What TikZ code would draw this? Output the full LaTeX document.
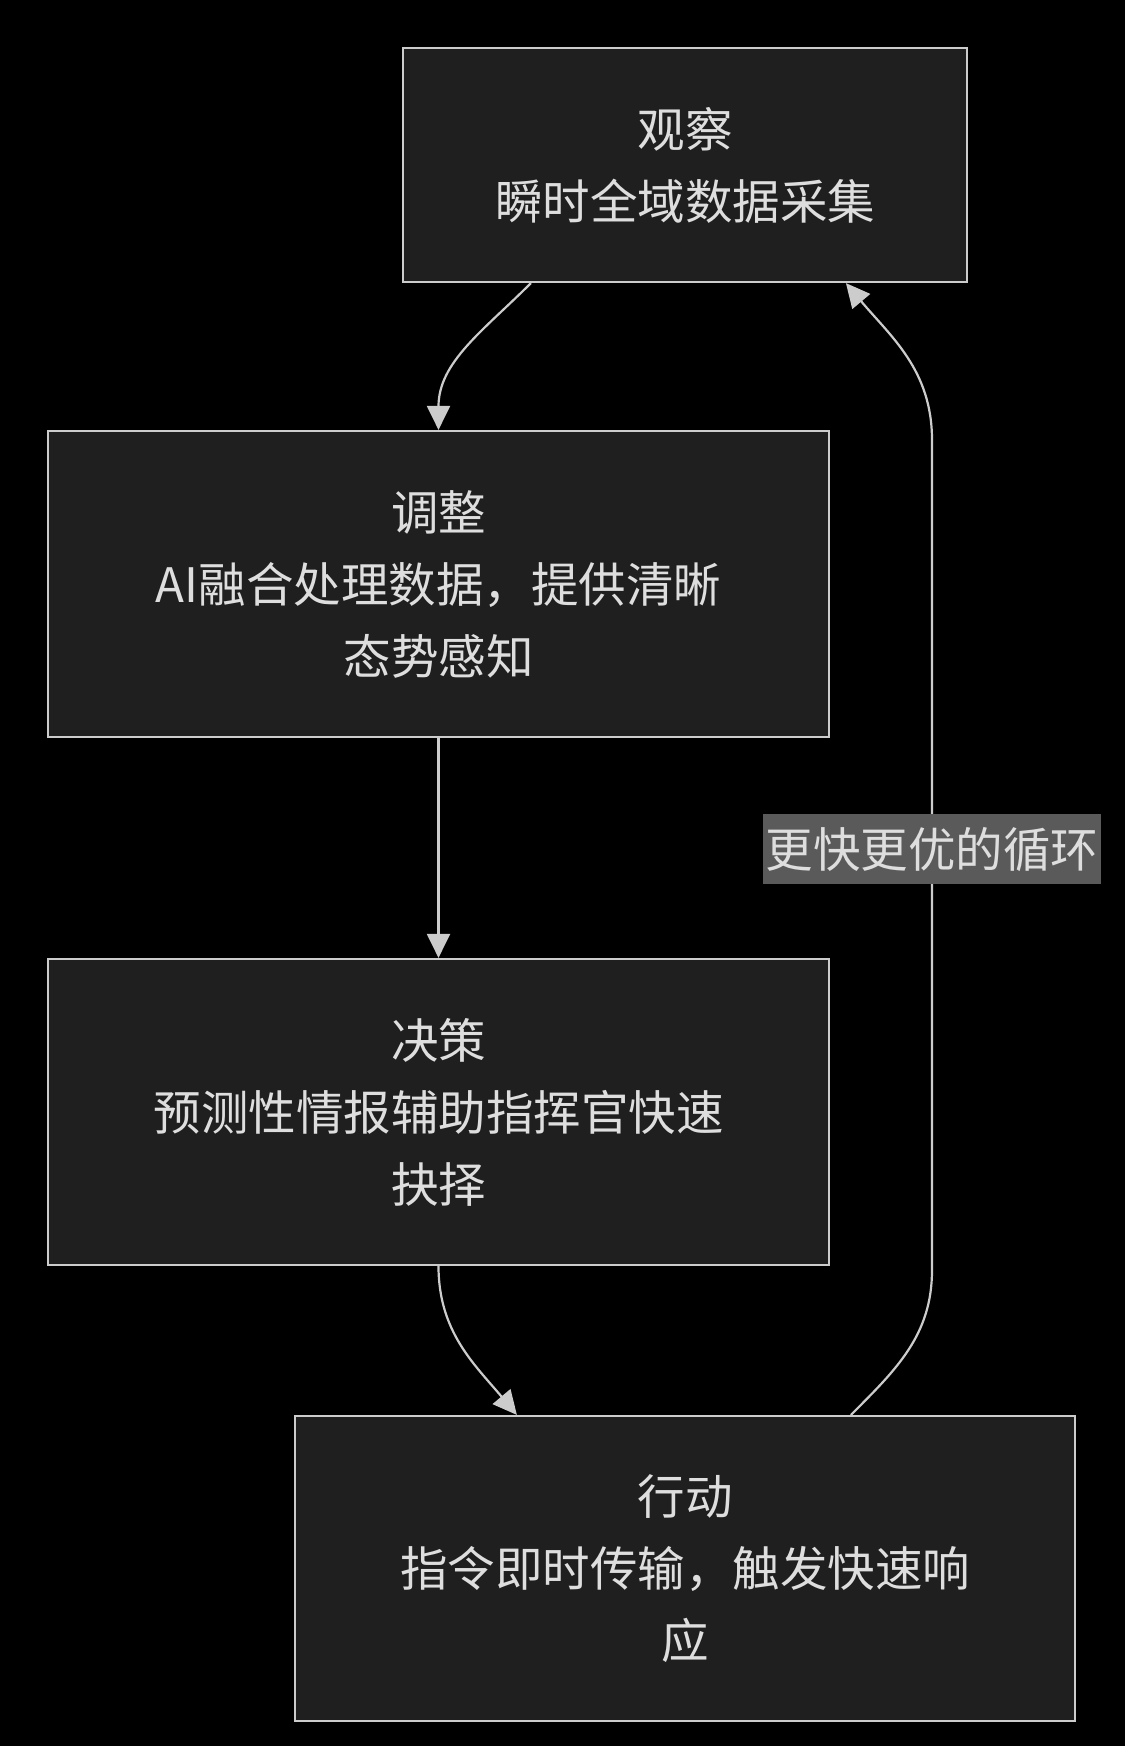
\documentclass[tikz,border=0pt]{standalone}
\usepackage{fontspec}
\setmainfont{Noto Sans CJK SC}
\usepackage{xcolor}
\usetikzlibrary{arrows.meta}
\definecolor{boxfill}{HTML}{1F1F1F}
\definecolor{boxline}{HTML}{CCCCCC}
\definecolor{txt}{HTML}{DEDEDE}
\definecolor{lblfill}{HTML}{5A5A5A}
\begin{document}
\begin{tikzpicture}[x=1pt,y=-1pt,
  stage/.style={draw=boxline,line width=2.2pt,fill=boxfill,text=txt,align=center,
    font=\fontsize{47.5}{72}\selectfont},
  flow/.style={draw=boxline,line width=2.2pt,-{Triangle[length=24pt,width=23pt]}},
  looplbl/.style={fill=lblfill,text=txt,inner sep=3pt,minimum height=70pt,
    font=\fontsize{47.5}{72}\selectfont}]
\fill[black](0,0)rectangle(1125,1746);
\useasboundingbox(0,0)rectangle(1125,1746);
\node[stage,minimum width=564pt,minimum height=234pt](obs)at(685,165){观察\\瞬时全域数据采集};
\node[stage,minimum width=781pt,minimum height=306pt](adj)at(438.5,584){调整\\AI融合处理数据，提供清晰\\态势感知};
\node[stage,minimum width=781pt,minimum height=306pt](dec)at(438.5,1112){决策\\预测性情报辅助指挥官快速\\抉择};
\node[stage,minimum width=780pt,minimum height=305pt](act)at(685,1568.5){行动\\指令即时传输，触发快速响\\应};
\draw[flow]([xshift=129pt]obs.south west)to[out=-135,in=90](adj.north);
\draw[flow](adj.south)--(dec.north);
\draw[flow](dec.south)to[out=-90,in=130]([xshift=223pt]act.north west);
\draw[flow]([xshift=557pt]act.north west)to[out=45,in=-90](932,1270)
  --node[looplbl,pos=0.507]{更快更优的循环}(932,440)to[out=90,in=-50]([xshift=444pt]obs.south west);
\end{tikzpicture}
\end{document}
